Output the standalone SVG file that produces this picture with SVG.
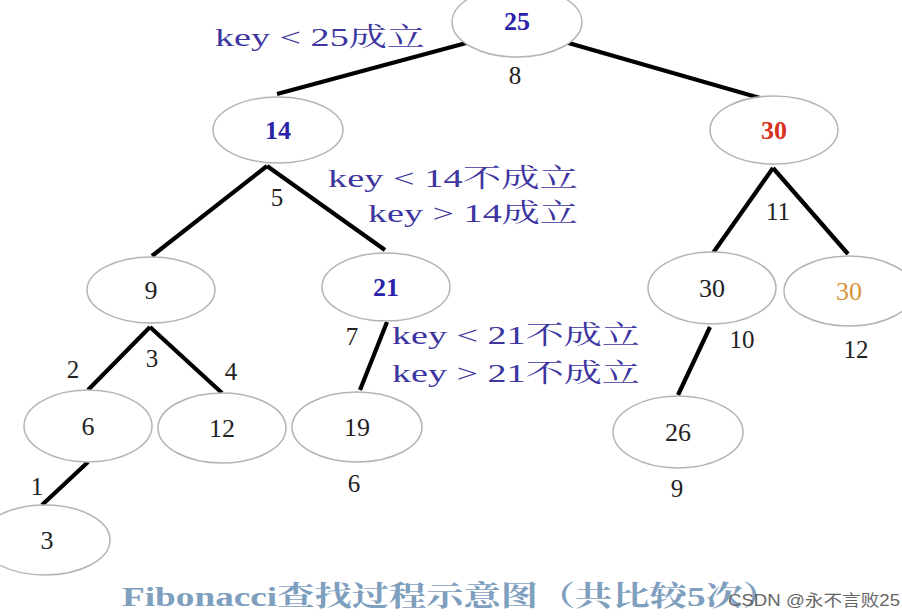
<svg xmlns="http://www.w3.org/2000/svg" width="902" height="616" viewBox="0 0 902 616">
<style>
.n{fill:#fff;stroke:#b4b4b4;stroke-width:1.5}
.t{font-family:"Liberation Serif","Noto Sans CJK SC",serif;font-size:26px;fill:#222;text-anchor:middle}
.b{font-weight:bold;fill:#2a22a8}
.l{font-family:"Liberation Serif",serif;font-size:25px;fill:#222;text-anchor:middle}
.k{font-family:"Liberation Serif","Noto Serif CJK SC","Noto Sans CJK SC",serif;font-size:26px;fill:#3d35a0}
.e{stroke:#000;stroke-width:4.2;fill:none;stroke-linecap:butt}
</style>
<rect width="902" height="616" fill="#fff"/>
<g id="connectors">
<line class="e" x1="470" y1="42" x2="277" y2="94"/>
<line class="e" x1="565" y1="42" x2="760" y2="98"/>
<line class="e" x1="267" y1="166" x2="152" y2="256"/>
<line class="e" x1="267" y1="166" x2="385" y2="250"/>
<line class="e" x1="150" y1="327" x2="88" y2="390"/>
<line class="e" x1="150" y1="327" x2="222" y2="393"/>
<line class="e" x1="387" y1="322" x2="360" y2="390"/>
<line class="e" x1="88" y1="462" x2="42" y2="505"/>
<line class="e" x1="773" y1="168" x2="713" y2="253"/>
<line class="e" x1="773" y1="168" x2="848" y2="254"/>
<line class="e" x1="710" y1="327" x2="678" y2="395"/>
</g>
<g id="n25"><ellipse class="n" cx="517" cy="22" rx="65" ry="35"/><text class="t b" x="517" y="30">25</text></g>
<g id="n14"><ellipse class="n" cx="278" cy="130" rx="65" ry="33"/><text class="t b" x="278" y="139">14</text></g>
<g id="n30r"><ellipse class="n" cx="774" cy="130" rx="64" ry="34"/><text class="t" x="774" y="139" style="font-weight:bold;fill:#d8321e">30</text></g>
<g id="n9"><ellipse class="n" cx="151" cy="290" rx="64" ry="33"/><text class="t" x="151" y="299">9</text></g>
<g id="n21"><ellipse class="n" cx="386" cy="287" rx="64" ry="34"/><text class="t b" x="386" y="296">21</text></g>
<g id="n30"><ellipse class="n" cx="712" cy="288" rx="64" ry="36"/><text class="t" x="712" y="297">30</text></g>
<g id="n30o"><ellipse class="n" cx="849" cy="291" rx="65" ry="35"/><text class="t" x="849" y="300" style="fill:#d9943a">30</text></g>
<g id="n6"><ellipse class="n" cx="88" cy="426" rx="64" ry="36"/><text class="t" x="88" y="435">6</text></g>
<g id="n12"><ellipse class="n" cx="222" cy="428" rx="64" ry="35"/><text class="t" x="222" y="437">12</text></g>
<g id="n19"><ellipse class="n" cx="357" cy="427" rx="65" ry="35"/><text class="t" x="357" y="436">19</text></g>
<g id="n26"><ellipse class="n" cx="678" cy="432" rx="65" ry="36"/><text class="t" x="678" y="441">26</text></g>
<g id="n3"><ellipse class="n" cx="45" cy="540" rx="65" ry="35"/><text class="t" x="47" y="549">3</text></g>
<g id="labels">
<text class="l" x="515" y="84">8</text>
<text class="l" x="277" y="206">5</text>
<text class="l" x="778" y="220">11</text>
<text class="l" x="73" y="378">2</text>
<text class="l" x="152" y="367">3</text>
<text class="l" x="231" y="380">4</text>
<text class="l" x="352" y="345">7</text>
<text class="l" x="742" y="348">10</text>
<text class="l" x="856" y="358">12</text>
<text class="l" x="354" y="492">6</text>
<text class="l" x="677" y="497">9</text>
<text class="l" x="37" y="495">1</text>
<text class="k" x="215" y="46" textLength="210" lengthAdjust="spacingAndGlyphs">key &lt; 25成立</text>
<text class="k" x="328" y="187" textLength="250" lengthAdjust="spacingAndGlyphs">key &lt; 14不成立</text>
<text class="k" x="368" y="222" textLength="210" lengthAdjust="spacingAndGlyphs">key &gt; 14成立</text>
<text class="k" x="392" y="344" textLength="248" lengthAdjust="spacingAndGlyphs">key &lt; 21不成立</text>
<text class="k" x="392" y="382" textLength="248" lengthAdjust="spacingAndGlyphs">key &gt; 21不成立</text>
<text x="122" y="606" textLength="658" lengthAdjust="spacingAndGlyphs" style="font-family:'Liberation Serif','Noto Serif CJK SC','Noto Sans CJK SC',serif;font-size:28px;font-weight:bold;fill:#7f9fbf">Fibonacci查找过程示意图（共比较5次）</text>
<text x="728" y="606" textLength="172" lengthAdjust="spacingAndGlyphs" style="font-family:'Liberation Sans','Noto Sans CJK SC',sans-serif;font-size:16px;fill:#666">CSDN @永不言败25</text>
</g>
</svg>
